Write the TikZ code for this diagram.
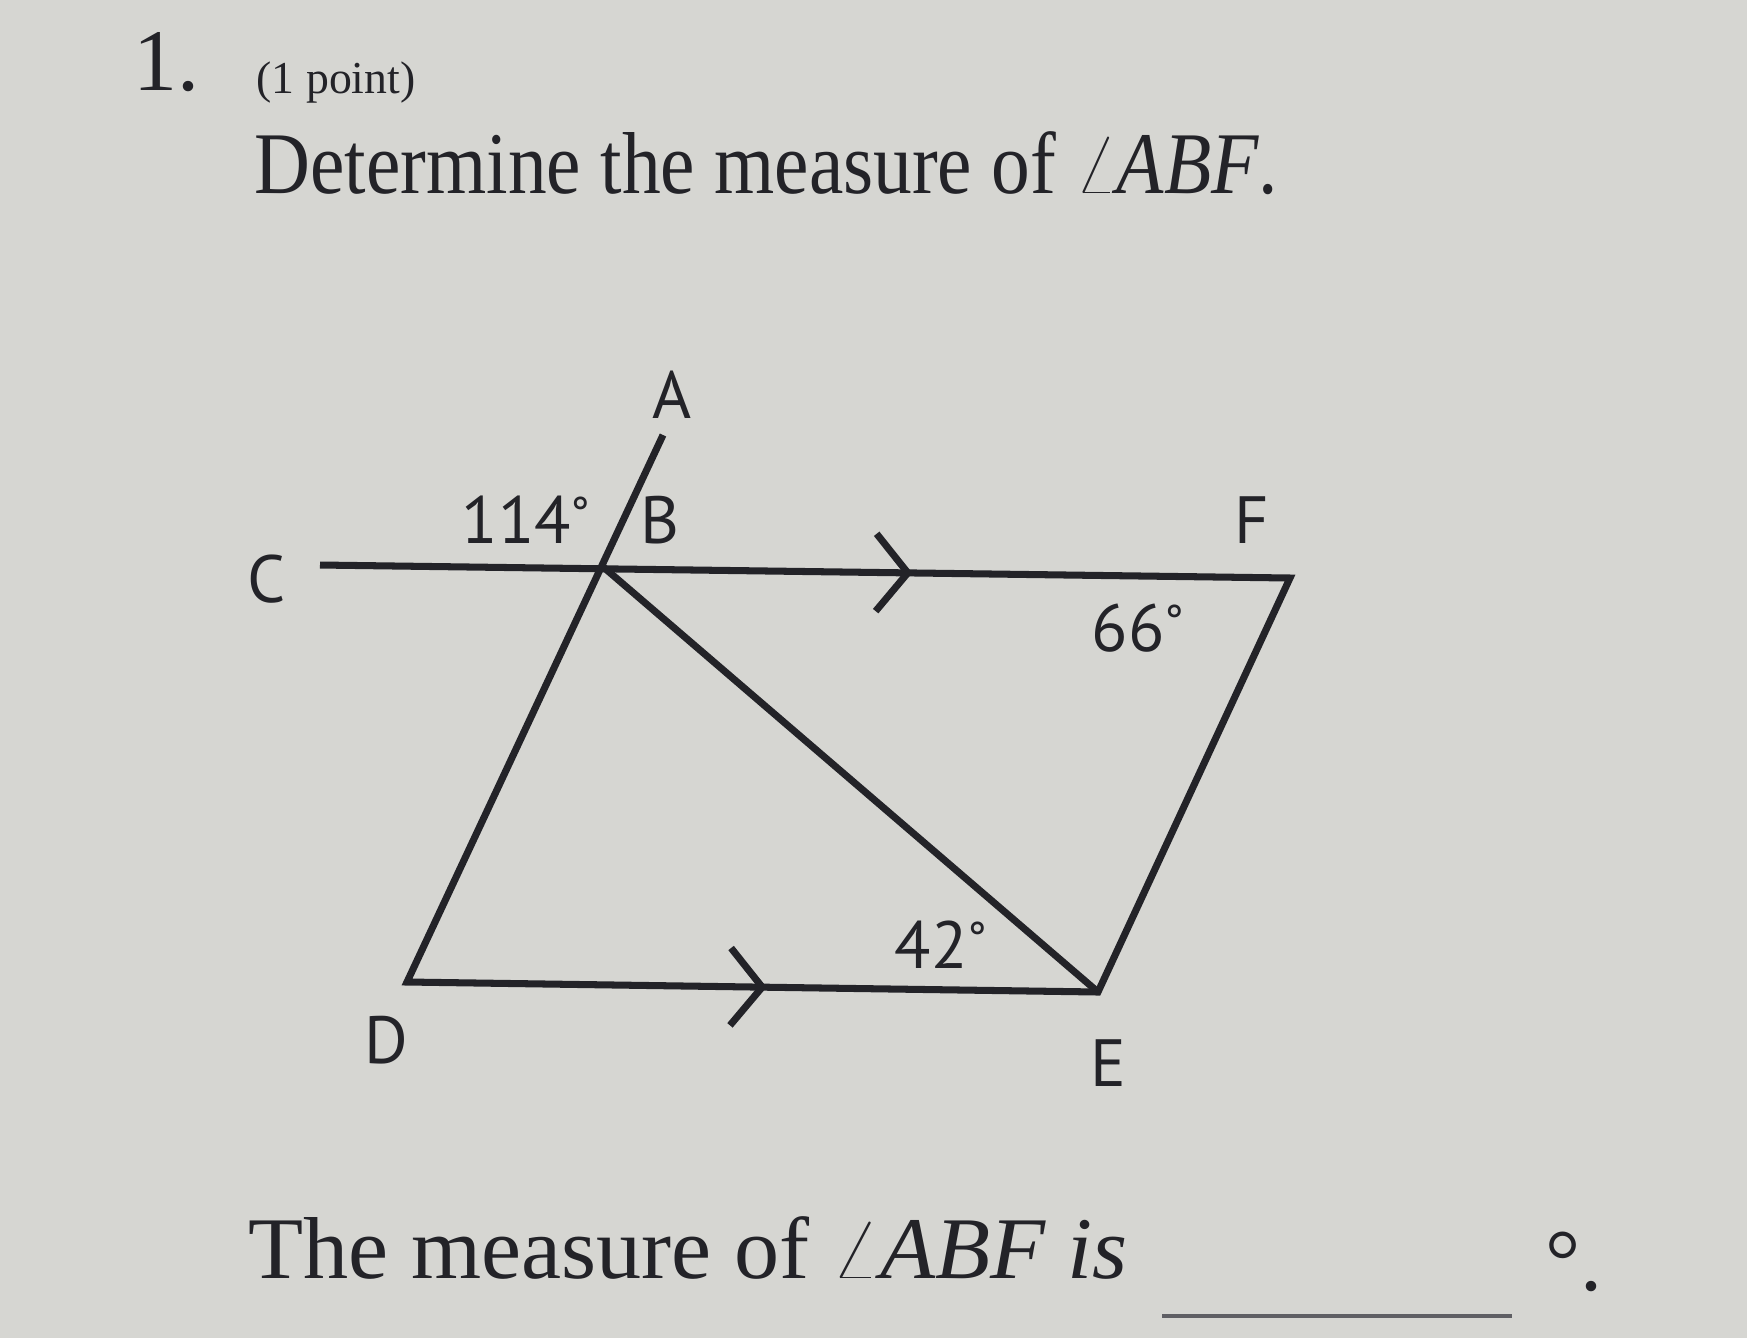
\documentclass[tikz,border=0pt]{standalone}
\usepackage{fontspec}
\usepackage{graphicx}
\setmainfont{Liberation Serif}
\newfontfamily\figfont{PT Sans}
\usetikzlibrary{decorations.markings,positioning}
\definecolor{screen}{RGB}{214,214,210}
\definecolor{ink}{RGB}{35,35,40}
\definecolor{blank}{RGB}{95,95,100}
\newcommand\dg{\raisebox{4pt}{\fontsize{13}{13}\selectfont°}}
\tikzset{
	lbl/.style={font=\figfont\fontsize{19}{19}\selectfont,text=ink,inner sep=0pt},
	txt/.style={text=ink,inner sep=0pt,anchor=base west},
	seg/.style={draw=ink,line width=2pt,line join=miter},
	par mark/.style={
		postaction={decorate},
		decoration={markings,mark=at position #1 with {\draw[ink,line width=2pt] (-9pt,11pt) -- (0,0) -- (-9pt,-11pt);}}
	},
}

\begin{document}
\begin{tikzpicture}[x=0.01cm,y=-0.01cm]
	\fill[screen] (0,0) rectangle (1747,1338);
	\useasboundingbox (0,0) rectangle (1747,1338);
	\node[txt,font=\fontsize{25}{25}\selectfont] (num) at (133,90) {1.};
	\node[txt,font=\fontsize{13}{13}\selectfont] (pts) at (256,93) {(1 point)};
	\node[txt,font=\fontsize{25}{25}\selectfont] (ask) at (254,193) {\resizebox{291pt}{\height}{Determine the measure of $\angle$\textit{ABF}.}};
	\coordinate (A) at (663,435);
	\coordinate (B) at (601,565);
	\coordinate (C) at (320,565);
	\coordinate (F) at (1290,578);
	\coordinate (D) at (407,982);
	\coordinate (E) at (1098,992);
	\draw[seg] (C) -- (F) -- (E) -- (D) -- (A);
	\draw[seg] (B) -- (E);
	\path[par mark=0.606] (C) -- (F);
	\path[par mark=0.514] (D) -- (E);
	\node[lbl] (lA) at (672,395) {A};
	\node[lbl] (lC) at (267,579) {C};
	\node[lbl] (lB) at (660,520) {B};
	\node[lbl] (lF) at (1252,520) {F};
	\node[lbl] (lD) at (386,1040) {D};
	\node[lbl] (lE) at (1108,1063) {E};
	\node[lbl] (a114) at (526,520) {114\dg};
	\node[lbl] (a66) at (1138,628) {66\dg};
	\node[lbl] (a42) at (941,945) {42\dg};
	\node[txt,font=\fontsize{25}{25}\selectfont] (ans) at (248,1278) {\resizebox{250pt}{\height}{The measure of $\angle$\textit{ABF is}}};
	\coordinate (u1) at (1162,1316);
	\coordinate (u2) at (1512,1316);
	\draw[blank,line width=1.2pt] (u1) -- (u2);
	\node[txt,font=\fontsize{25}{25}\selectfont] (deg) at (1545,1290) {°.};
\end{tikzpicture}
\end{document}
